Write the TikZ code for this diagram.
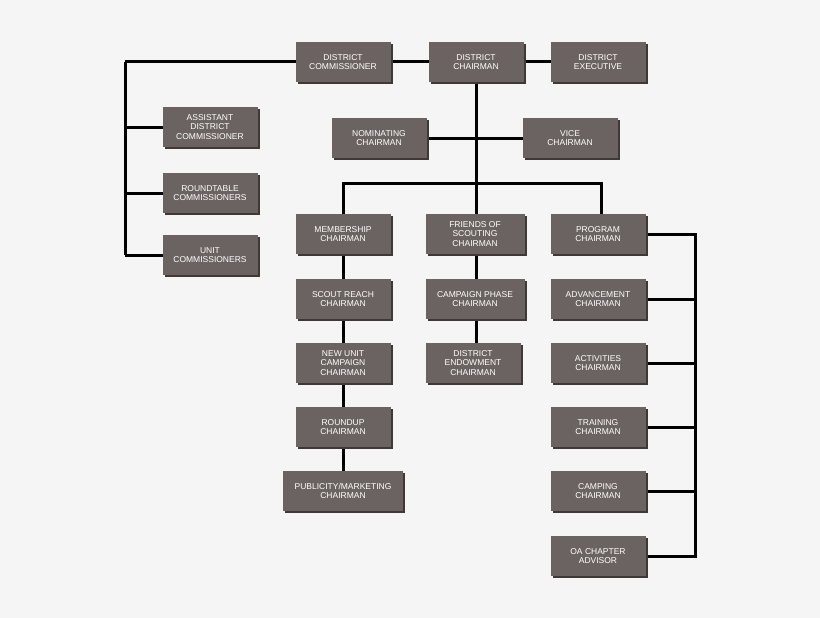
\documentclass[tikz,border=0pt]{standalone}
\usepackage{fontspec}
\setmainfont{Liberation Sans}
\begin{document}
\begin{tikzpicture}[x=1pt,y=-1pt,
  box/.style={fill=boxc, minimum width=95pt, minimum height=40pt, inner sep=1pt,
    text=white, font=\fontsize{8.5}{9.5}\selectfont, align=center,
    preaction={fill=boxd, transform canvas={xshift=2pt,yshift=-2pt}}},
  wide/.style={minimum width=120pt},
  conn/.style={line width=3pt}]
\definecolor{boxc}{HTML}{6B6361}
\definecolor{boxd}{HTML}{3E3836}
\definecolor{bgc}{HTML}{F5F5F5}
\fill[bgc] (0,0) rectangle (820,618);
\useasboundingbox (0,0) rectangle (820,618);
\coordinate (L1) at (125,62);
\coordinate (L2) at (125,127);
\coordinate (L3) at (125,193);
\coordinate (L4) at (125,255);
\coordinate (H1) at (343,183);
\coordinate (H2) at (476,183);
\coordinate (H3) at (601,183);
\coordinate (R1) at (695,234);
\coordinate (R6) at (695,556);
\begin{scope}[conn]
\draw (L1) -- (L4);
\draw (L1) -- (343,62) -- (598,62);
\draw (L2) -- (210,127);
\draw (L3) -- (210,193);
\draw (L4) -- (210,255);
\draw (476,62) -- (H2);
\draw (379,138) -- (570,138);
\draw (343,234) -- (H1) -- (H3) -- (601,234);
\draw (H2) -- (476,234);
\draw (343,234) -- (343,491);
\draw (476,234) -- (476,363);
\draw (598,234) -- (R1) -- (R6) -- (598,556);
\foreach \y in {299,363,427,491} \draw (598,\y) -- (695,\y);
\end{scope}
\node[box] (dc) at (343,62) {DISTRICT\\COMMISSIONER};
\node[box] (dch) at (476,62) {DISTRICT\\CHAIRMAN};
\node[box] (de) at (598,62) {DISTRICT\\EXECUTIVE};
\node[box] (adc) at (210,127) {ASSISTANT\\DISTRICT\\COMMISSIONER};
\node[box] (rt) at (210,193) {ROUNDTABLE\\COMMISSIONERS};
\node[box] (uc) at (210,255) {UNIT\\COMMISSIONERS};
\node[box] (nom) at (379,138) {NOMINATING\\CHAIRMAN};
\node[box] (vice) at (570,138) {VICE\\CHAIRMAN};
\node[box] (mem) at (343,234) {MEMBERSHIP\\CHAIRMAN};
\node[box,minimum width=99pt] (fos) at (475,234) {FRIENDS OF\\SCOUTING\\CHAIRMAN};
\node[box] (prog) at (598,234) {PROGRAM\\CHAIRMAN};
\node[box] (sr) at (343,299) {SCOUT REACH\\CHAIRMAN};
\node[box] (nu) at (343,363) {NEW UNIT\\CAMPAIGN\\CHAIRMAN};
\node[box] (ru) at (343,427) {ROUNDUP\\CHAIRMAN};
\node[box,wide] (pub) at (343,491) {PUBLICITY/MARKETING\\CHAIRMAN};
\node[box,minimum width=99pt] (cp) at (475,299) {CAMPAIGN PHASE\\CHAIRMAN};
\node[box] (end) at (473,363) {DISTRICT\\ENDOWMENT\\CHAIRMAN};
\node[box] (adv) at (598,299) {ADVANCEMENT\\CHAIRMAN};
\node[box] (act) at (598,363) {ACTIVITIES\\CHAIRMAN};
\node[box] (tr) at (598,427) {TRAINING\\CHAIRMAN};
\node[box] (camp) at (598,491) {CAMPING\\CHAIRMAN};
\node[box] (oa) at (598,556) {OA CHAPTER\\ADVISOR};
\end{tikzpicture}
\end{document}
